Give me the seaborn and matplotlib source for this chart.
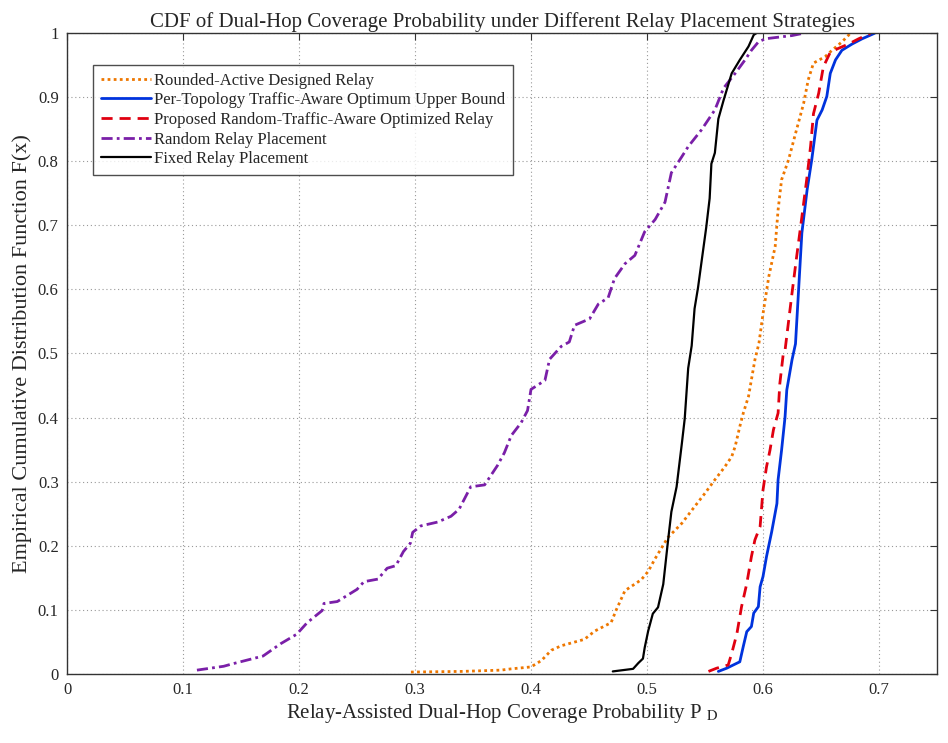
import matplotlib
matplotlib.use("Agg")
import matplotlib.pyplot as plt
import numpy as np
import pandas as pd
import seaborn as sns

# empirical CDF curves: x = coverage probability, F = CDF level
rounded_x = [0.2965, 0.340, 0.374, 0.383, 0.400, 0.409, 0.4175, 0.426, 0.446, 0.455, 0.469, 0.4735,
             0.481, 0.495, 0.501, 0.507, 0.518, 0.530, 0.541, 0.550, 0.5585, 0.567, 0.573, 0.576,
             0.580, 0.583, 0.5875, 0.590, 0.593, 0.5965, 0.600, 0.605, 0.6105, 0.613, 0.616, 0.622,
             0.628, 0.635, 0.639, 0.6435, 0.6535, 0.6595, 0.668, 0.674, 0.675]
rounded_f = [0.003, 0.004, 0.006, 0.008, 0.011, 0.021, 0.037, 0.044, 0.054, 0.067, 0.080, 0.100,
             0.130, 0.147, 0.160, 0.180, 0.213, 0.235, 0.261, 0.282, 0.303, 0.323, 0.339, 0.355,
             0.386, 0.407, 0.433, 0.459, 0.490, 0.516, 0.562, 0.620, 0.667, 0.724, 0.771, 0.802,
             0.843, 0.890, 0.927, 0.953, 0.963, 0.973, 0.986, 0.997, 1.0]

upper_x = [0.5615, 0.5687, 0.580, 0.583, 0.586, 0.590, 0.592, 0.596, 0.5975, 0.600, 0.603, 0.6075,
           0.612, 0.613, 0.616, 0.619, 0.6205, 0.625, 0.628, 0.6335, 0.638, 0.642, 0.6465, 0.651,
           0.655, 0.658, 0.6625, 0.668, 0.677, 0.6855, 0.6955, 0.6965]
upper_f = [0.004, 0.009, 0.019, 0.043, 0.066, 0.074, 0.095, 0.105, 0.136, 0.152, 0.183, 0.222,
           0.266, 0.303, 0.349, 0.401, 0.443, 0.490, 0.515, 0.688, 0.755, 0.802, 0.864, 0.880,
           0.901, 0.937, 0.958, 0.973, 0.983, 0.991, 0.999, 1.0]

proposed_x = [0.553, 0.560, 0.570, 0.573, 0.5775, 0.5815, 0.586, 0.590, 0.593, 0.5975, 0.600, 0.603,
              0.606, 0.609, 0.613, 0.6145, 0.6175, 0.619, 0.625, 0.629, 0.6335, 0.638, 0.641, 0.6435,
              0.648, 0.652, 0.658, 0.665, 0.674, 0.6825, 0.6925]
proposed_f = [0.004, 0.009, 0.014, 0.032, 0.063, 0.105, 0.141, 0.183, 0.209, 0.230, 0.287, 0.323,
              0.349, 0.381, 0.407, 0.453, 0.500, 0.505, 0.594, 0.651, 0.713, 0.776, 0.823, 0.874,
              0.906, 0.947, 0.970, 0.976, 0.983, 0.991, 0.999]

random_x = [0.112, 0.135, 0.143, 0.169, 0.184, 0.198, 0.207, 0.220, 0.2215, 0.233, 0.250, 0.256,
            0.268, 0.276, 0.2835, 0.290, 0.296, 0.298, 0.305, 0.3195, 0.331, 0.338, 0.348, 0.360,
            0.371, 0.377, 0.383, 0.3915, 0.397, 0.400, 0.412, 0.416, 0.426, 0.433, 0.4375, 0.4505,
            0.458, 0.4665, 0.472, 0.481, 0.4895, 0.498, 0.507, 0.5155, 0.521, 0.530, 0.5356, 0.547,
            0.5585, 0.566, 0.576, 0.5845, 0.590, 0.596, 0.602, 0.625, 0.636]
random_f = [0.006, 0.012, 0.016, 0.028, 0.047, 0.062, 0.080, 0.099, 0.110, 0.113, 0.132, 0.144,
            0.148, 0.165, 0.169, 0.191, 0.204, 0.221, 0.231, 0.237, 0.246, 0.257, 0.292, 0.295,
            0.325, 0.345, 0.372, 0.392, 0.411, 0.444, 0.458, 0.491, 0.511, 0.518, 0.544, 0.554,
            0.577, 0.587, 0.617, 0.640, 0.653, 0.690, 0.709, 0.736, 0.782, 0.807, 0.823, 0.849,
            0.880, 0.914, 0.937, 0.958, 0.973, 0.986, 0.991, 0.996, 1.0]

fixed_x = [0.4705, 0.488, 0.4925, 0.4965, 0.498, 0.501, 0.505, 0.5095, 0.514, 0.518, 0.521, 0.5255,
           0.530, 0.5325, 0.5355, 0.5385, 0.541, 0.544, 0.547, 0.551, 0.554, 0.5555, 0.5585,
           0.5615, 0.566, 0.573, 0.580, 0.5875, 0.592, 0.5945]
fixed_f = [0.004, 0.008, 0.017, 0.024, 0.041, 0.067, 0.094, 0.104, 0.140, 0.206, 0.253, 0.292,
           0.359, 0.398, 0.477, 0.512, 0.570, 0.603, 0.643, 0.696, 0.742, 0.796, 0.813,
           0.866, 0.895, 0.937, 0.958, 0.979, 0.997, 1.0]

series = [
    ("Rounded-Active Designed Relay", rounded_x, rounded_f, "#EE7700", (0, (1, 1.2)), 2.0),
    ("Per-Topology Traffic-Aware Optimum Upper Bound", upper_x, upper_f, "#0033DD", "-", 2.0),
    ("Proposed Random-Traffic-Aware Optimized Relay", proposed_x, proposed_f, "#E00010", (0, (4, 2.5)), 2.0),
    ("Random Relay Placement", random_x, random_f, "#7A1FA8", (0, (4, 1.5, 1, 1.5)), 2.0),
    ("Fixed Relay Placement", fixed_x, fixed_f, "black", "-", 1.6),
]

sns.set_theme(style="white")
plt.rcParams["font.family"] = ["Liberation Serif", "DejaVu Serif"]
plt.rcParams["mathtext.fontset"] = "stix"

fig = plt.figure(figsize=(9.48, 7.43), dpi=100)
ax = fig.add_axes([0.0707, 0.0929, 0.9177, 0.8627])

for label, xs, fs, color, ls, lw in series:
    df = pd.DataFrame({"x": xs, "F": fs})
    sns.lineplot(data=df, x="x", y="F", ax=ax, sort=False, estimator=None,
                 color=color, linestyle=ls, linewidth=lw, label=label)

ax.set_xlim(0, 0.75)
ax.set_ylim(0, 1)
ax.set_xticks(np.arange(0, 0.71, 0.1))
ax.set_xticklabels(["0", "0.1", "0.2", "0.3", "0.4", "0.5", "0.6", "0.7"])
ax.set_yticks(np.arange(0, 1.01, 0.1))
ax.set_yticklabels(["0", "0.1", "0.2", "0.3", "0.4", "0.5", "0.6", "0.7", "0.8", "0.9", "1"])
ax.tick_params(direction="in", length=5, width=0.8, top=True, right=True,
               labelsize=12, color="#333333", pad=6)
ax.grid(True, linestyle=(0, (1, 2.5)), color="#999999", linewidth=0.8)
for sp in ax.spines.values():
    sp.set_color("#333333")
    sp.set_linewidth(1.0)

ax.set_xlabel(r"Relay-Assisted Dual-Hop Coverage Probability P $_\mathrm{D}$", fontsize=15, labelpad=3)
ax.set_ylabel("Empirical Cumulative Distribution Function F(x)", fontsize=16, labelpad=4)
ax.set_title("CDF of Dual-Hop Coverage Probability under Different Relay Placement Strategies",
             fontsize=15, pad=4)

leg = ax.legend(loc="upper left", bbox_to_anchor=(0.03, 0.95), fontsize=12, frameon=True,
                fancybox=False, handlelength=3.0, handletextpad=0.2, labelspacing=0.22,
                borderpad=0.45, borderaxespad=0.0)
leg.get_frame().set_edgecolor("#222222")
leg.get_frame().set_linewidth(1.0)

fig.savefig("out.png", dpi=100)
